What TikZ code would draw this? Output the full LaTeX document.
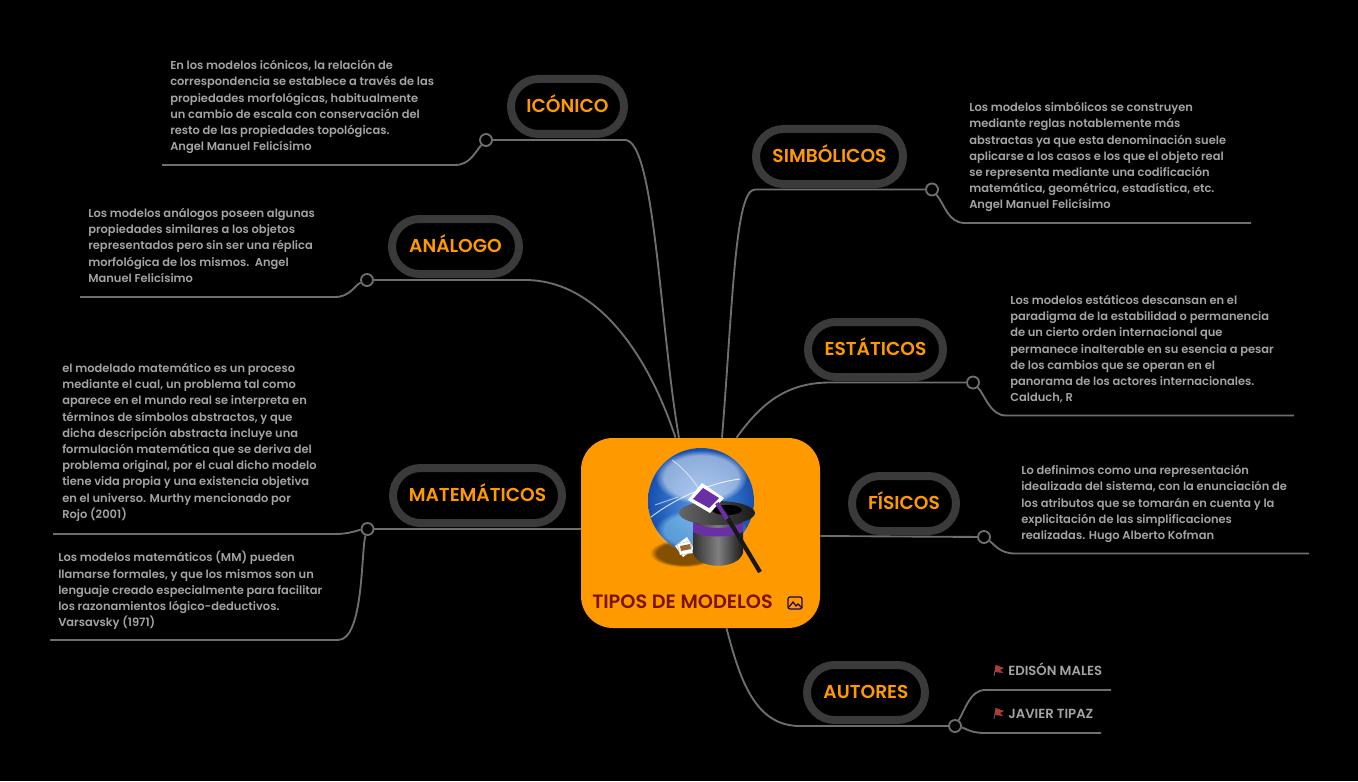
\documentclass[tikz,border=0pt]{standalone}
\usepackage{fontspec}
\setmainfont{Poppins}[BoldFont={Poppins SemiBold}]
\usepackage{xcolor}
\usetikzlibrary{calc,positioning,fadings}
\definecolor{linegrey}{HTML}{6E6E6E}
\definecolor{pillgrey}{HTML}{3A3A3A}
\definecolor{leafgrey}{HTML}{A3A3A3}
\definecolor{topicorange}{HTML}{FF9900}
\definecolor{titlered}{HTML}{7A1200}
\definecolor{flagred}{HTML}{B23A36}
\definecolor{ballblue}{HTML}{5C9BE6}
\definecolor{ballrim}{HTML}{1550AE}
\definecolor{hatband}{HTML}{6A2FA5}
\begin{document}
\begin{tikzpicture}[x=0.75pt,y=-0.75pt,
  topic/.style={rectangle,rounded corners=20.6pt,draw=pillgrey,line width=6pt,fill=black,text=topicorange,minimum height=41.25pt,inner sep=0pt,text height=10pt,text depth=1.5pt,font=\fontsize{14}{17}\selectfont\bfseries},
  leaf/.style={anchor=north west,align=left,inner sep=0pt,text=leafgrey,font=\fontsize{8.6}{12.15}\selectfont\bfseries},
  autor/.style={leaf,font=\fontsize{9.9}{12}\selectfont\bfseries},
  dot/.style={circle,draw=linegrey,line width=1.4pt,fill=black,minimum size=9pt,inner sep=0pt},
  branch/.style={draw=linegrey,line width=1.4pt}]
\useasboundingbox (0,0) rectangle (1358,781);
\fill[black] (0,0) rectangle (1358,781);

% central topic
\node[rectangle,rounded corners=24pt,fill=topicorange,minimum width=179.25pt,minimum height=142.5pt,inner sep=0pt] (tipos) at (700.5,533) {};
\node[anchor=west,inner sep=0pt,text=titlered,font=\fontsize{14.45}{16}\selectfont\bfseries] (titulo) at (592,602) {TIPOS DE MODELOS};

% the hat picture
\fill[black!80!topicorange,opacity=.6,path fading=circle with fuzzy edge 20 percent] (684,553) ellipse (34 and 14);
\shade[inner color=ballblue,outer color=ballrim] (701,501) circle (53);
\fill[white,opacity=.5,path fading=circle with fuzzy edge 20 percent] (701,477) ellipse (46 and 27);
\fill[cyan!40!white,opacity=.5,path fading=circle with fuzzy edge 20 percent] (701,530) ellipse (46 and 22);
\draw[white,opacity=.8,line width=.7pt] (651,517) .. controls (680,495) and (715,482) .. (740,479);
\draw[white,opacity=.6,line width=.7pt] (672,460) .. controls (700,480) and (715,515) .. (720,545);
\draw[white,opacity=.6,line width=.7pt] (655,505) -- (678,497);
\fill[white] (675,546) -- (687,537) -- (694,549) -- (683,557) -- cycle;
\fill[white,draw=black!40,line width=.2pt] (677,544) -- (690,541) -- (693,553) -- (680,555) -- cycle;
\fill[brown!80!black] (680,546) -- (690,544) -- (691,549) -- (681,551) -- cycle;
\shade[left color=black!80,right color=black!90,middle color=black!50] (693,522) -- (743,522) -- (743,553) .. controls (738,570) and (698,570) .. (693,553) -- cycle;
\shade[left color=black!60,right color=black!90] (717,513) ellipse (38 and 12);
\fill[black] (727,510) ellipse (15 and 5);
\fill[hatband] (693,522) .. controls (705,530) and (730,530) .. (743,522) -- (743,532) .. controls (730,538) and (705,538) .. (693,532) -- cycle;
\fill[white] (702,483) -- (724,498) -- (710,513) -- (688,500) -- cycle;
\fill[hatband] (703,488) -- (719,498) -- (709,508) -- (693,499) -- cycle;
\draw[black!90,line width=3.2pt] (724,512) -- (760,572);
\draw[hatband,line width=3.2pt] (717,503) -- (727,519);

% image mark
\draw[titlered!30!black!60!blue,line width=.9pt,rounded corners=1.5pt] (788,597) rectangle (802,609);
\draw[titlered!30!black!60!blue,line width=.9pt] (789,607) -- (793,602) -- (796,606) -- (798,604) -- (802,608);

% main topics
\node[topic,minimum width=84.75pt] (iconico) at (567.5,106.5) {ICÓNICO};
\node[topic,minimum width=95.25pt] (analogo) at (455.5,246.5) {ANÁLOGO};
\node[topic,minimum width=126.75pt] (matematicos) at (477.5,495.5) {MATEMÁTICOS};
\node[topic,minimum width=110.25pt] (simbolicos) at (829.5,156.5) {SIMBÓLICOS};
\node[topic,minimum width=101.25pt] (estaticos) at (875.5,349.5) {ESTÁTICOS};
\node[topic,minimum width=78pt] (fisicos) at (904,503.5) {FÍSICOS};
\node[topic,minimum width=88.5pt] (autores) at (866,692.5) {AUTORES};

% dots on the branches
\node[dot] (iconicoDot) at (486,140) {};
\node[dot] (analogoDot) at (367,280) {};
\node[dot] (matematicosDot) at (367.5,529) {};
\node[dot] (simbolicosDot) at (932,189.5) {};
\node[dot] (estaticosDot) at (973,382.5) {};
\node[dot] (fisicosDot) at (984,537) {};
\node[dot] (autoresDot) at (955,726) {};

% free ends of the leaf lines
\coordinate (iconicoEnd) at (162,165);
\coordinate (analogoEnd) at (80,297);
\coordinate (mateEndA) at (53,534);
\coordinate (mateEndB) at (50,640);
\coordinate (simbolicosEnd) at (1251,223);
\coordinate (estaticosEnd) at (1294,415.5);
\coordinate (fisicosEnd) at (1309,553.5);
\coordinate (edisonEnd) at (1111,690);
\coordinate (javierEnd) at (1101,733);

% branches from the central topic
\draw[branch] (iconicoDot) -- (625,140) .. controls (655,140) and (660,330) .. ($ (tipos.north)+(-21.5,0) $);
\draw[branch] (analogoDot) -- (525,280) .. controls (600,280) and (650,360) .. ($ (tipos.north)+(-25,0) $);
\draw[branch] (matematicosDot) -- (tipos.west |- 0,529);
\draw[branch] (simbolicosDot) -- (755,189.5) .. controls (735,189.5) and (733,300) .. ($ (tipos.north)+(21.5,0) $);
\draw[branch] (estaticosDot) -- (830,382.5) .. controls (785,382.5) and (760,405) .. ($ (tipos.north)+(36,0) $);
\draw[branch] (fisicosDot) -- (tipos.east |- 0,536);
\draw[branch] (autoresDot) -- (800,726) .. controls (755,726) and (740,680) .. ($ (tipos.south)+(26,0) $);

% leaf lines
\draw[branch] (iconicoDot) .. controls (475,152) and (470,165) .. (455,165) -- (iconicoEnd);
\draw[branch] (analogoDot) .. controls (355,285) and (350,297) .. (335,297) -- (analogoEnd);
\draw[branch] (matematicosDot) .. controls (358,530) and (350,534) .. (335,534) -- (mateEndA);
\draw[branch] (matematicosDot) .. controls (361,550) and (364,640) .. (338,640) -- (mateEndB);
\draw[branch] (simbolicosDot) .. controls (945,205) and (948,223) .. (965,223) -- (simbolicosEnd);
\draw[branch] (estaticosDot) .. controls (985,395) and (990,415.5) .. (1006,415.5) -- (estaticosEnd);
\draw[branch] (fisicosDot) .. controls (995,545) and (1000,553.5) .. (1015,553.5) -- (fisicosEnd);
\draw[branch] (autoresDot) .. controls (965,710) and (970,690) .. (985,690) -- (edisonEnd);
\draw[branch] (autoresDot) .. controls (965,728) and (970,733) .. (985,733) -- (javierEnd);

% leaf texts
\node[leaf] (iconicoText) at (170,60) {En los modelos icónicos, la relación de\\correspondencia se establece a través de las\\propiedades morfológicas, habitualmente\\un cambio de escala con conservación del\\resto de las propiedades topológicas.\\Angel Manuel Felicísimo};
\node[leaf] (analogoText) at (88,208) {Los modelos análogos poseen algunas\\propiedades similares a los objetos\\representados pero sin ser una réplica\\morfológica de los mismos.\ \ Angel\\Manuel Felicísimo};
\node[leaf] (mateTextA) at (62,363) {el modelado matemático es un proceso\\mediante el cual, un problema tal como\\aparece en el mundo real se interpreta en\\términos de símbolos abstractos, y que\\dicha descripción abstracta incluye una\\formulación matemática que se deriva del\\problema original, por el cual dicho modelo\\tiene vida propia y una existencia objetiva\\en el universo. Murthy mencionado por\\Rojo (2001)};
\node[leaf] (mateTextB) at (58,551) {Los modelos matemáticos (MM) pueden\\llamarse formales, y que los mismos son un\\lenguaje creado especialmente para facilitar\\los razonamientos lógico-deductivos.\\Varsavsky (1971)};
\node[leaf] (simbolicosText) at (969,102) {Los modelos simbólicos se construyen\\mediante reglas notablemente más\\abstractas ya que esta denominación suele\\aplicarse a los casos e los que el objeto real\\se representa mediante una codificación\\matemática, geométrica, estadística, etc.\\Angel Manuel Felicísimo};
\node[leaf] (estaticosText) at (1010,295) {Los modelos estáticos descansan en el\\paradigma de la estabilidad o permanencia\\de un cierto orden internacional que\\permanece inalterable en su esencia a pesar\\de los cambios que se operan en el\\panorama de los actores internacionales.\\Calduch, R};
\node[leaf] (fisicosText) at (1021,465) {Lo definimos como una representación\\idealizada del sistema, con la enunciación de\\los atributos que se tomarán en cuenta y la\\explicitación de las simplificaciones\\realizadas. Hugo Alberto Kofman};
\node[autor] (edison) at (1008,663) {EDISÓN MALES};
\node[autor] (javier) at (1008,709) {JAVIER TIPAZ};

% flags
\foreach \fy in {665,708} {
  \draw[black!60,line width=.6pt] (994,\fy+11) -- (996,\fy);
  \fill[flagred] (996,\fy) -- (1004,\fy+3) -- (1000,\fy+5) -- (1003,\fy+8) -- (995,\fy+7) -- cycle;
}
\end{tikzpicture}
\end{document}
